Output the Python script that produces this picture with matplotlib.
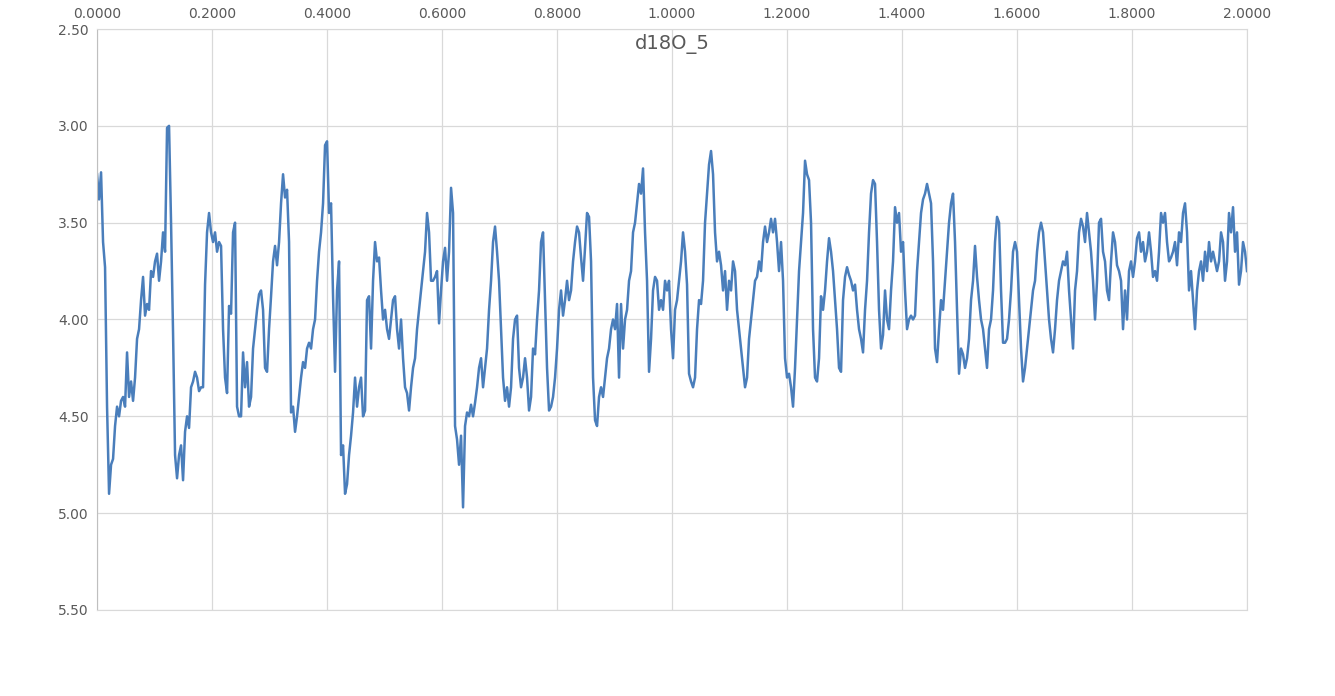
import numpy as np
import matplotlib
matplotlib.use("Agg")
import matplotlib.pyplot as plt
from matplotlib.ticker import FormatStrFormatter

# d18O values, evenly spaced in depth from 0 to 2
d18o = [
    3.25, 3.38, 3.24, 3.60, 3.73, 4.45, 4.90, 4.75, 4.72, 4.55, 4.45, 4.50, 4.42, 4.40, 4.45, 4.17,
    4.40, 4.32, 4.42, 4.30, 4.10, 4.05, 3.90, 3.78, 3.98, 3.92, 3.95, 3.75, 3.78, 3.70, 3.66, 3.80,
    3.70, 3.55, 3.65, 3.01, 3.00, 3.50, 4.07, 4.70, 4.82, 4.70, 4.65, 4.83, 4.58, 4.50, 4.56, 4.35,
    4.32, 4.27, 4.30, 4.37, 4.35, 4.35, 3.82, 3.55, 3.45, 3.55, 3.60, 3.55, 3.65, 3.60, 3.62, 4.05,
    4.30, 4.38, 3.93, 3.97, 3.55, 3.50, 4.45, 4.50, 4.50, 4.17, 4.35, 4.22, 4.45, 4.40, 4.15, 4.05,
    3.95, 3.87, 3.85, 3.95, 4.25, 4.27, 4.05, 3.88, 3.70, 3.62, 3.72, 3.60, 3.40, 3.25, 3.37, 3.33,
    3.60, 4.48, 4.45, 4.58, 4.50, 4.40, 4.30, 4.22, 4.25, 4.15, 4.12, 4.15, 4.05, 4.00, 3.80, 3.65,
    3.55, 3.40, 3.10, 3.08, 3.45, 3.40, 3.88, 4.27, 3.85, 3.70, 4.70, 4.65, 4.90, 4.85, 4.70, 4.60,
    4.48, 4.30, 4.45, 4.35, 4.30, 4.50, 4.47, 3.90, 3.88, 4.15, 3.80, 3.60, 3.70, 3.68, 3.85, 4.00,
    3.95, 4.05, 4.10, 4.00, 3.90, 3.88, 4.05, 4.15, 4.00, 4.20, 4.35, 4.38, 4.47, 4.35, 4.25, 4.20,
    4.05, 3.95, 3.85, 3.75, 3.65, 3.45, 3.55, 3.80, 3.80, 3.78, 3.75, 4.02, 3.85, 3.70, 3.63, 3.80,
    3.65, 3.32, 3.45, 4.55, 4.62, 4.75, 4.60, 4.97, 4.55, 4.48, 4.50, 4.44, 4.50, 4.43, 4.35, 4.25,
    4.20, 4.35, 4.25, 4.15, 3.95, 3.80, 3.60, 3.52, 3.65, 3.80, 4.05, 4.30, 4.42, 4.35, 4.45, 4.35,
    4.10, 4.00, 3.98, 4.25, 4.35, 4.30, 4.20, 4.30, 4.47, 4.40, 4.15, 4.18, 4.00, 3.85, 3.60, 3.55,
    3.90, 4.25, 4.47, 4.45, 4.40, 4.30, 4.15, 3.95, 3.85, 3.98, 3.90, 3.80, 3.90, 3.85, 3.70, 3.60,
    3.52, 3.55, 3.68, 3.80, 3.63, 3.45, 3.47, 3.70, 4.30, 4.52, 4.55, 4.40, 4.35, 4.40, 4.30, 4.20,
    4.15, 4.05, 4.00, 4.05, 3.92, 4.30, 3.92, 4.15, 4.00, 3.95, 3.80, 3.75, 3.55, 3.50, 3.40, 3.30,
    3.35, 3.22, 3.55, 3.80, 4.27, 4.10, 3.85, 3.78, 3.80, 3.95, 3.90, 3.95, 3.80, 3.85, 3.80, 4.05,
    4.20, 3.95, 3.90, 3.80, 3.70, 3.55, 3.65, 3.82, 4.28, 4.32, 4.35, 4.30, 4.05, 3.90, 3.92, 3.80,
    3.50, 3.35, 3.20, 3.13, 3.25, 3.55, 3.70, 3.65, 3.72, 3.85, 3.75, 3.95, 3.80, 3.85, 3.70, 3.75,
    3.95, 4.05, 4.15, 4.25, 4.35, 4.30, 4.10, 4.00, 3.90, 3.80, 3.78, 3.70, 3.75, 3.60, 3.52, 3.60,
    3.55, 3.48, 3.55, 3.48, 3.60, 3.75, 3.60, 3.80, 4.20, 4.30, 4.28, 4.35, 4.45, 4.25, 4.00, 3.75,
    3.60, 3.45, 3.18, 3.25, 3.28, 3.50, 4.05, 4.30, 4.32, 4.20, 3.88, 3.95, 3.85, 3.70, 3.58, 3.65,
    3.75, 3.90, 4.05, 4.25, 4.27, 3.90, 3.78, 3.73, 3.77, 3.80, 3.85, 3.82, 3.95, 4.05, 4.10, 4.17,
    3.95, 3.80, 3.55, 3.35, 3.28, 3.30, 3.60, 3.95, 4.15, 4.08, 3.85, 4.00, 4.05, 3.85, 3.70, 3.42,
    3.50, 3.45, 3.65, 3.60, 3.85, 4.05, 4.00, 3.98, 4.00, 3.98, 3.75, 3.60, 3.45, 3.38, 3.35, 3.30,
    3.35, 3.40, 3.70, 4.15, 4.22, 4.05, 3.90, 3.95, 3.80, 3.65, 3.50, 3.40, 3.35, 3.60, 3.95, 4.28,
    4.15, 4.18, 4.25, 4.20, 4.10, 3.90, 3.80, 3.62, 3.78, 3.90, 4.00, 4.05, 4.15, 4.25, 4.05, 4.00,
    3.85, 3.60, 3.47, 3.50, 3.85, 4.12, 4.12, 4.10, 4.00, 3.85, 3.65, 3.60, 3.65, 3.90, 4.15, 4.32,
    4.25, 4.15, 4.05, 3.95, 3.85, 3.80, 3.65, 3.55, 3.50, 3.55, 3.70, 3.85, 4.00, 4.10, 4.17, 4.05,
    3.90, 3.80, 3.75, 3.70, 3.72, 3.65, 3.85, 4.00, 4.15, 3.85, 3.75, 3.55, 3.48, 3.52, 3.60, 3.45,
    3.55, 3.65, 3.80, 4.00, 3.80, 3.50, 3.48, 3.65, 3.70, 3.85, 3.90, 3.70, 3.55, 3.60, 3.72, 3.75,
    3.80, 4.05, 3.85, 4.00, 3.75, 3.70, 3.78, 3.70, 3.58, 3.55, 3.65, 3.60, 3.70, 3.65, 3.55, 3.65,
    3.78, 3.75, 3.80, 3.65, 3.45, 3.50, 3.45, 3.60, 3.70, 3.68, 3.65, 3.60, 3.72, 3.55, 3.60, 3.45,
    3.40, 3.55, 3.85, 3.75, 3.90, 4.05, 3.85, 3.75, 3.70, 3.80, 3.65, 3.75, 3.60, 3.70, 3.65, 3.70,
    3.75, 3.70, 3.55, 3.60, 3.80, 3.70, 3.45, 3.55, 3.42, 3.65, 3.55, 3.82, 3.75, 3.60, 3.65, 3.75,
]
depth = np.linspace(0.0, 2.0, len(d18o))

x_ticks = [0.0, 0.2, 0.4, 0.6, 0.8, 1.0, 1.2, 1.4, 1.6, 1.8, 2.0]
y_ticks = [2.5, 3.0, 3.5, 4.0, 4.5, 5.0, 5.5]

fig = plt.figure(figsize=(13.35, 6.96), dpi=100)
ax = fig.add_axes([0.0727, 0.1236, 0.8614, 0.8347])
ax.plot(depth, d18o, color="#4a7ebb", linewidth=1.8)

ax.set_xlim(0, 2)
ax.set_ylim(5.5, 2.5)
ax.set_xticks(x_ticks)
ax.set_yticks(y_ticks)
ax.xaxis.set_major_formatter(FormatStrFormatter("%.4f"))
ax.yaxis.set_major_formatter(FormatStrFormatter("%.2f"))
ax.xaxis.tick_top()
ax.tick_params(length=0, labelsize=10, labelcolor="#595959", pad=6)
ax.grid(True, color="#d9d9d9", linewidth=0.9)
for side, sp in ax.spines.items():
    sp.set_color("#d9d9d9")
ax.spines["left"].set_color("#bfbfbf")
ax.set_title("d18O_5", fontsize=14, color="#595959", y=0.965, pad=0)

fig.savefig("out.png", dpi=100)
